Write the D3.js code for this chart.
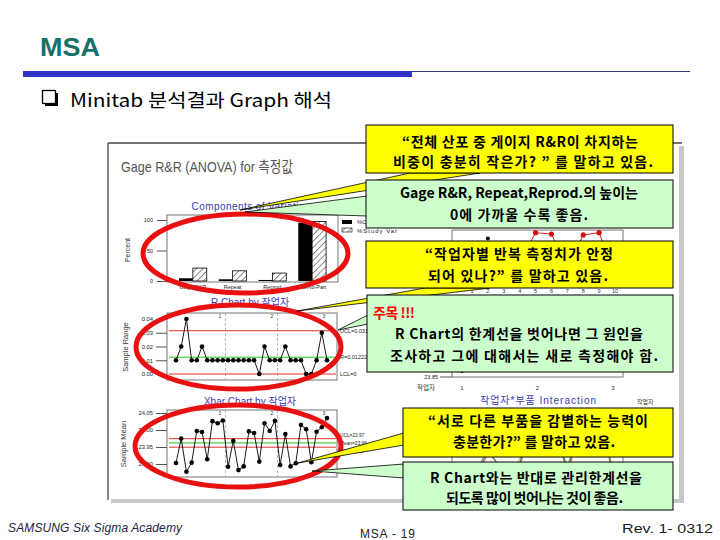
<!DOCTYPE html>
<html><head><meta charset="utf-8">
<script src="https://cdn.jsdelivr.net/npm/d3@7"></script>
<style>body{margin:0;background:#fff}svg{display:block}</style>
</head><body><svg id="c" width="720" height="540"></svg>
<script>
// ---------------- data ----------------
const components = ["Gage R&R","Repeat","Reprod","Part-to-Part"];
const pctContribution = [4.5,2.8,1.7,95.5];
const pctStudyVar = [21.2,16.7,13.0,97.7];
const componentTicks = [0,50,100];
const rangeValues = [0.01,0.02,0.04,0.01,0.01,0.02,0.01,0.01,0.01,0.01,
                     0.01,0.01,0.01,0.01,0.01,0.01,0.00,0.02,0.01,0.01,
                     0.01,0.02,0.01,0.01,0.01,0.00,0.00,0.01,0.03,0.01];
const rangeTicks = [0,0.01,0.02,0.03,0.04];
const rangeLimits = [0.03146,0.01222,0];
const rangeLimitLabels = ["UCL=0.03146","R=0.01222","LCL=0"];
const meanValues = [23.903,23.975,23.877,23.904,23.997,23.994,23.914,24.026,24.020,24.028,
                    23.892,23.968,23.882,23.893,23.996,23.991,23.907,24.020,23.997,24.027,
                    23.897,23.988,23.893,23.902,24.015,24.002,23.905,23.995,24.008,24.035];
const meanTicks = [23.90,23.95,24.00,24.05];
const meanLimits = [23.9745,23.962,23.9495];
const meanLimitLabels = ["UCL=23.97","Mean=23.96","LCL=23.95"];
const operators = ["1","2","3"];
const parts = ["1","2","3","4","5","6","7","8","9","10"];
const partMeans = [23.88,23.99,23.92,23.95,24.088,24.082,23.93,24.078,24.088,23.90];
const partPoints = [null,24.062,null,null,null,null,null,null,null,null];
const operatorLow = [23.869,23.880,23.878];
const interOp1 = [23.88,23.99,23.92,23.95,24.09,24.08,23.93,24.08,24.09,23.90];
const interOp2 = [23.87,23.98,23.93,23.94,24.08,24.09,23.92,24.07,24.08,23.91];
const interOp3 = [23.89,24.00,23.91,23.96,24.09,24.07,23.94,24.08,24.09,23.89];
const calloutTexts = [
  ["“전체 산포 중 게이지 R&R이 차지하는","비중이 충분히 작은가? ” 를 말하고 있음."],
  ["Gage R&R, Repeat,Reprod.의 높이는","0에 가까울 수록 좋음."],
  ["“작업자별 반복 측정치가 안정","되어 있나?” 를 말하고 있음."],
  ["R Chart의 한계선을 벗어나면 그 원인을","조사하고 그에 대해서는 새로 측정해야 함."],
  ["“서로 다른 부품을 감별하는 능력이","충분한가?” 를 말하고 있음."],
  ["R Chart와는 반대로 관리한계선을","되도록 많이 벗어나는 것이 좋음."]
];

// ---------------- drawing ----------------
const svg = d3.select("#c");
const SANS = "Arial, 'Liberation Sans', 'Noto Sans CJK KR', sans-serif";
const KR = "'Noto Sans CJK KR', 'Liberation Sans', sans-serif";
const BLUE = "#3c3cb4";
const defs = svg.append("defs");
const pat = defs.append("pattern").attr("id","hatch").attr("patternUnits","userSpaceOnUse")
  .attr("width",4.5).attr("height",4.5).attr("patternTransform","rotate(45)");
pat.append("rect").attr("width",4.5).attr("height",4.5).attr("fill","#fff");
pat.append("line").attr("x1",0).attr("y1",0).attr("x2",0).attr("y2",4.5).attr("stroke","#000").attr("stroke-width",0.9);

function txt(g,x,y,s,o={}){
  const t=g.append("text").attr("x",x).attr("y",y).text(s)
    .attr("font-family",o.ff||SANS).attr("font-size",o.fs||10).attr("fill",o.fill||"#000");
  if(o.fw) t.attr("font-weight",o.fw);
  if(o.fst) t.attr("font-style",o.fst);
  if(o.anchor) t.attr("text-anchor",o.anchor);
  if(o.len) t.attr("textLength",o.len).attr("lengthAdjust",o.adj||"spacing");
  return t;
}

// header
txt(svg,40,56,"MSA",{fs:26,fw:"bold",fill:"#17706a",len:60,adj:"spacingAndGlyphs"});
svg.append("rect").attr("x",23).attr("y",71).attr("width",389).attr("height",6).attr("fill","#3333cc");
svg.append("line").attr("x1",412).attr("x2",690).attr("y1",71.5).attr("y2",71.5).attr("stroke","#333388").attr("stroke-width",1);
svg.append("rect").attr("x",45).attr("y",93).attr("width",13).attr("height",13).attr("fill","#000");
svg.append("rect").attr("x",42.5).attr("y",90.5).attr("width",13).attr("height",13).attr("fill","#fff").attr("stroke","#000").attr("stroke-width",1.3);
txt(svg,70,107,"Minitab 분석결과 Graph 해석",{ff:KR,fs:18,len:262,adj:"spacingAndGlyphs"});

// footer
txt(svg,8,532,"SAMSUNG Six Sigma Academy",{fs:12,fst:"italic",fill:"#222244",len:174});
txt(svg,360,538,"MSA - 19",{fs:12,fill:"#222",len:55});
txt(svg,622,533,"Rev. 1- 0312",{fs:13,fill:"#222",len:91,adj:"spacingAndGlyphs"});

// main frame
svg.append("rect").attr("x",679).attr("y",146).attr("width",5).attr("height",357).attr("fill","#c8c8c8");
svg.append("rect").attr("x",111).attr("y",499).attr("width",573).attr("height",4).attr("fill","#c8c8c8");
svg.append("line").attr("x1",108).attr("x2",682).attr("y1",143).attr("y2",143).attr("stroke","#444").attr("stroke-width",1.3);
svg.append("line").attr("x1",108).attr("x2",108).attr("y1",143).attr("y2",500).attr("stroke","#444").attr("stroke-width",1.3);

txt(svg,121,172,"Gage R&R (ANOVA) for 측정값",{fs:14.5,fill:"#555",len:172,adj:"spacingAndGlyphs"});

// ---- Components of variation ----
const gC = svg.append("g");
txt(gC,251,210,"Components of Variation",{fs:10,fill:BLUE,anchor:"middle",len:119});
const xC = d3.scaleBand().domain(components).range([167,338]).padding(0.3);
const xSub = d3.scaleBand().domain(["c","s"]).range([0,xC.bandwidth()]);
const yC = d3.scaleLinear().domain([0,100]).range([281,220]);
gC.append("rect").attr("x",167).attr("y",215).attr("width",171).attr("height",67).attr("fill","none").attr("stroke","#777");
gC.selectAll(".bc").data(components).join("rect")
  .attr("x",d=>xC(d)+xSub("c")).attr("width",xSub.bandwidth())
  .attr("y",(d,i)=>yC(pctContribution[i])).attr("height",(d,i)=>yC(0)-yC(pctContribution[i]))
  .attr("fill","#000");
gC.selectAll(".bs").data(components).join("rect")
  .attr("x",d=>xC(d)+xSub("s")).attr("width",xSub.bandwidth())
  .attr("y",(d,i)=>yC(pctStudyVar[i])).attr("height",(d,i)=>yC(0)-yC(pctStudyVar[i]))
  .attr("fill","url(#hatch)").attr("stroke","#000").attr("stroke-width",0.8);
const axC = gC.append("g").attr("transform","translate(167,0)")
  .call(d3.axisLeft(yC).tickValues(componentTicks).tickSize(10).tickPadding(4));
const axCx = gC.append("g").attr("transform","translate(0,282)")
  .call(d3.axisBottom(xC).tickSize(0).tickPadding(3));
[axC,axCx].forEach(a=>{a.select(".domain").remove();a.selectAll("text").attr("font-size",5.5).attr("font-family",SANS).attr("fill","#222");a.selectAll("line").attr("stroke","#555");});
txt(gC,0,0,"Percent",{fs:7,fill:"#333",anchor:"middle"}).attr("transform","translate(130,250) rotate(-90)");
gC.append("rect").attr("x",342).attr("y",220).attr("width",10).attr("height",4).attr("fill","#000");
gC.append("rect").attr("x",342).attr("y",228).attr("width",10).attr("height",4).attr("fill","url(#hatch)").attr("stroke","#000").attr("stroke-width",0.6);
txt(gC,357,224,"%Contribution",{fs:6,fill:"#222"});
txt(gC,357,233,"%Study Var",{fs:6,fill:"#222",len:40});

// shared x for control charts
const xI = d3.scalePoint().domain(d3.range(30)).range([176,327]);
function controlChart(top, vals, ticks, limits, labels, labelDy, yDomain, yRange, fmt, ylab, title, titleY){
  const g = svg.append("g");
  txt(g,250,titleY,title,{fs:10,fill:BLUE,anchor:"middle"});
  const y = d3.scaleLinear().domain(yDomain).range(yRange);
  g.append("rect").attr("x",167).attr("y",top).attr("width",170).attr("height",67).attr("fill","none").attr("stroke","#777");
  [9,19].forEach(i=>{const xm=(xI(i)+xI(i+1))/2;
    g.append("line").attr("x1",xm).attr("x2",xm).attr("y1",top).attr("y2",top+67).attr("stroke","#999").attr("stroke-dasharray","3,2").attr("stroke-width",0.7);});
  operators.forEach((o,k)=>txt(g,xI(k*10+9)-3,top+4.5,o,{fs:5,fill:"#333",anchor:"middle"}));
  const lc=["#e03030","#20c020","#e03030"];
  limits.forEach((v,k)=>{
    g.append("line").attr("x1",169).attr("x2",336).attr("y1",y(v)).attr("y2",y(v)).attr("stroke",lc[k]).attr("stroke-width",1);
    txt(g,340,y(v)+labelDy[k],labels[k],{fs:labelDy[0]<0?4.8:5.5,fill:"#222"});
  });
  g.append("path").datum(vals).attr("fill","none").attr("stroke","#000").attr("stroke-width",0.9)
    .attr("d",d3.line().x((d,i)=>xI(i)).y(d=>y(d)));
  g.selectAll(".pt").data(vals).join("circle").attr("cx",(d,i)=>xI(i)).attr("cy",d=>y(d)).attr("r",2.3).attr("fill","#000");
  const ax = g.append("g").attr("transform","translate(167,0)")
    .call(d3.axisLeft(y).tickValues(ticks).tickSize(11).tickPadding(3).tickFormat(fmt));
  ax.select(".domain").remove();
  ax.selectAll("text").attr("font-size",5.8).attr("font-family",SANS).attr("fill","#222");
  ax.selectAll("line").attr("stroke","#555");
  txt(g,0,0,ylab,{fs:7.5,fill:"#333",anchor:"middle"}).attr("transform",`translate(${top>400?126:128},${top+34}) rotate(-90)`);
}
controlChart(313, rangeValues, rangeTicks, rangeLimits, rangeLimitLabels, [2,2,2], [0,0.04],[374,319], d3.format(".2f"), "Sample Range", "R Chart by 작업자", 306);
controlChart(410, meanValues, meanTicks, meanLimits, meanLimitLabels, [-1.5,2.2,6], [23.90,24.05],[464,413], d3.format(".2f"), "Sample Mean", "Xbar Chart by 작업자", 405);

// ---- right-side charts (mostly hidden by callouts) ----
const xP = d3.scalePoint().domain(parts).range([472,615]);
// by part
const yP = d3.scaleLinear().domain([23.85,24.10]).range([286,230]);
svg.append("rect").attr("x",452).attr("y",230).attr("width",171).attr("height",57).attr("fill","none").attr("stroke","#777");
svg.append("path").datum(partMeans).attr("fill","none").attr("stroke","#e02020").attr("stroke-width",1)
  .attr("d",d3.line().x((d,i)=>xP(parts[i])).y(d=>yP(d)));
svg.selectAll(".pm").data(partMeans).join("circle").attr("cx",(d,i)=>xP(parts[i])).attr("cy",d=>yP(d)).attr("r",2.6).attr("fill","#d01010");
svg.selectAll(".pp").data(partPoints.map((v,i)=>({v,i})).filter(d=>d.v!==null)).join("circle")
  .attr("cx",d=>xP(parts[d.i])).attr("cy",d=>yP(d.v)).attr("r",2).attr("fill","#000");
parts.forEach(p=>txt(svg,xP(p),293,p,{fs:5.5,fill:"#333",anchor:"middle"}));
// by operator
const xO = d3.scalePoint().domain(operators).range([462,613]);
const yO = d3.scaleLinear().domain([23.85,24.10]).range([377,300]);
svg.append("rect").attr("x",452).attr("y",300).attr("width",171).attr("height",77).attr("fill","none").attr("stroke","#777");
svg.selectAll(".ol").data(operatorLow).join("circle").attr("cx",(d,i)=>xO(operators[i])).attr("cy",d=>yO(d)).attr("r",1.8).attr("fill","#000");
svg.append("line").attr("x1",440).attr("x2",452).attr("y1",yO(23.85)).attr("y2",yO(23.85)).attr("stroke","#555");
txt(svg,438,yO(23.85)+2,"23.85",{fs:5.5,fill:"#222",anchor:"end"});
txt(svg,417,390,"작업자",{fs:6.5,fill:"#333"});
operators.forEach(o=>txt(svg,xO(o),390,o,{fs:6,fill:"#333",anchor:"middle"}));
txt(svg,538,404,"작업자*부품 Interaction",{fs:10,fill:BLUE,anchor:"middle",len:116});
txt(svg,637,404,"작업자",{fs:6,fill:"#333"});
// interaction
const yN = d3.scaleLinear().domain([23.85,24.10]).range([497,412]);
svg.append("rect").attr("x",452).attr("y",412).attr("width",171).attr("height",87).attr("fill","none").attr("stroke","#777");
[[interOp1,"#333"],[interOp2,"#d03030"],[interOp3,"#30a030"]].forEach(([arr,c])=>{
  svg.append("path").datum(arr).attr("fill","none").attr("stroke",c).attr("stroke-width",0.8)
    .attr("d",d3.line().x((d,i)=>xP(parts[i])).y(d=>yN(d)));
});

// ---- red ellipses ----
[[245.5,253.5,102.5,39.5],[238.5,347,102.5,42],[238,446,103,41]].forEach(e=>{
  svg.append("ellipse").attr("cx",e[0]).attr("cy",e[1]).attr("rx",e[2]).attr("ry",e[3])
    .attr("fill","none").attr("stroke","#e81010").attr("stroke-width",5);
});

// ---- callouts ----
const YEL="#ffff00", GRN="#ccffcc";
const boxes = [
  {x:366,y:125,w:307,h:48,fill:YEL,ptr:[[410,173],[480,173],[240,210]],lines:[[402,638,147],[393,653,167]]},
  {x:366,y:180,w:307,h:48,fill:GRN,ptr:[[367,196],[367,216],[245,212]],lines:[[400,638,198],[450,588,220]]},
  {x:366,y:241,w:307,h:47,fill:YEL,ptr:[[425,288],[490,288],[297,311]],lines:[[425,613,259],[428,608,281]]},
  {x:367,y:295,w:306,h:77,fill:GRN,ptr:[[368,315],[368,324],[338,330]],lines:[[395,643,339],[390,658,361]]},
  {x:403,y:408,w:270,h:49,fill:YEL,ptr:[[404,433],[404,445],[298,463]],lines:[[428,648,426],[453,615,447]]},
  {x:403,y:462,w:270,h:48,fill:GRN,ptr:[[404,464],[404,478],[312,471]],lines:[[430,642,483],[446,623,503]]}
];
boxes.forEach((b,k)=>{
  svg.append("polygon").attr("points",b.ptr.map(p=>p.join(",")).join(" "))
    .attr("fill",b.fill).attr("stroke","#000").attr("stroke-width",0.8);
  svg.append("rect").attr("x",b.x).attr("y",b.y).attr("width",b.w).attr("height",b.h)
    .attr("fill",b.fill).attr("stroke","#000").attr("stroke-width",1);
  b.lines.forEach((l,j)=>txt(svg,l[0],l[2],calloutTexts[k][j],{ff:KR,fs:14,fw:"bold",fill:"#000",len:l[1]-l[0]}));
  if(k===3) txt(svg,373,318,"주목 !!!",{ff:KR,fs:14,fw:"bold",fill:"#ff0000",len:42});
});
</script></body></html>
